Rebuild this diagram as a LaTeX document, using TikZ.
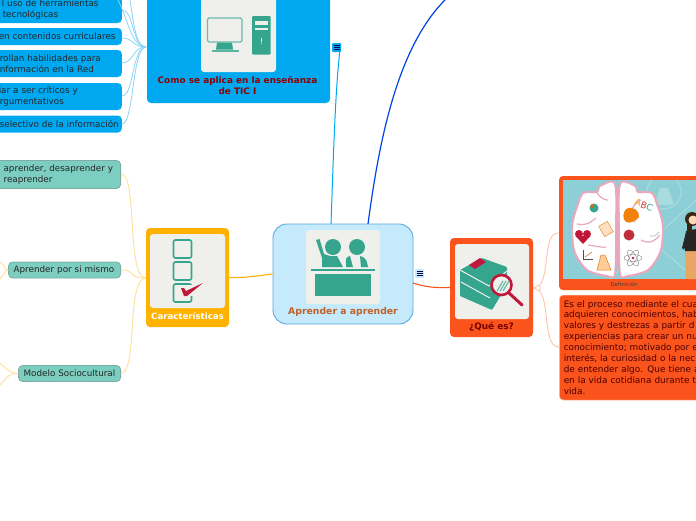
\documentclass[tikz,border=0pt]{standalone}
\usepackage{fontspec}
\setmainfont{DejaVu Sans}
\definecolor{bluetic}{HTML}{00A8EF}
\definecolor{bluelink}{HTML}{8AD6F8}
\definecolor{ambercar}{HTML}{FFB300}
\definecolor{amberlink}{HTML}{FFE09A}
\definecolor{orangeque}{HTML}{FA541C}
\definecolor{orangelink}{HTML}{FFC2AC}
\definecolor{tealicon}{HTML}{35A58E}
\definecolor{tealleaf}{HTML}{7CCEC0}
\definecolor{panelgray}{HTML}{EFF0EC}
\definecolor{crimson}{HTML}{C0183A}
\definecolor{pinkbrain}{HTML}{E8A9BE}
\definecolor{rootblue}{HTML}{C5EAFB}
\definecolor{rootline}{HTML}{5BA8DC}
\definecolor{rootword}{HTML}{C0612A}
\definecolor{brainback}{HTML}{8CCFD6}
\definecolor{brainline}{HTML}{A9DCDE}
\tikzset{
    bigbox/.style={rounded corners=4pt, inner sep=0pt},
    panel/.style={fill=panelgray, rounded corners=3pt, inner sep=0pt},
    leafblue/.style={fill=bluetic, rounded corners=4pt, anchor=east, inner xsep=5pt, inner ysep=0pt, align=left, text=black!85,
            font=\fontsize{8.8}{11}\selectfont},
    leafteal/.style={leafblue, fill=tealleaf, draw=tealleaf!55!gray, line width=0.8pt},
    caption/.style={inner sep=0pt, align=center, font=\fontsize{8.9}{11}\selectfont\bfseries},
    togglebox/.style={rounded corners=1pt, minimum size=9pt, inner sep=0pt},
    blink/.style={bluelink, line width=0.8pt},
    alink/.style={amberlink, line width=0.9pt},
    olink/.style={orangelink, line width=0.9pt},
}
\begin{document}
\begin{tikzpicture}[x=1pt,y=-1pt]
    \useasboundingbox (0,0) rectangle (696,520);
    \fill[white] (0,0) rectangle (696,520);

    % main boxes
    \node[bigbox, fill=bluetic, minimum width=183pt, minimum height=123pt] (tic) at (238.5,41.5) {};
    \node[bigbox, fill=ambercar, minimum width=83pt, minimum height=99pt] (carac) at (187.5,277.5) {};
    \node[fill=rootblue, draw=rootline, line width=0.9pt, rounded corners=14pt, inner sep=0pt,
        minimum width=140pt, minimum height=100pt] (root) at (343,274) {};
    \node[bigbox, fill=orangeque, minimum width=83pt, minimum height=99pt] (quees) at (491.5,287.5) {};
    \node[bigbox, fill=orangeque, minimum width=141pt, minimum height=114pt] (defin) at (629.5,233) {};

    % free ends and toggles
    \coordinate (ticin) at (146,47);
    \coordinate (topin) at (445,0);
    \coordinate (topa) at (130,0);
    \coordinate (topb) at (118,0);
    \coordinate (lefta) at (0,262);
    \coordinate (leftb) at (0,279);
    \coordinate (leftc) at (0,363);
    \coordinate (leftd) at (0,385);
    \coordinate (carin) at (146,278);
    \coordinate (quein) at (533,288);
    \node[togglebox, fill=bluetic] (toggletic) at (336.5,47.5) {};
    \node[togglebox, fill=rootblue] (toggleroot) at (419.5,273.5) {};

    % leaves
    \node[leafblue, minimum height=27pt, text width=123pt] (bluea) at (122,9.5) {\hspace*{8pt}\mbox{l uso de herramientas}\\\hspace*{9pt}tecnológicas};
    \node[leafblue, minimum height=17pt, text width=123pt] (blueb) at (122,36.5) {\hspace*{5pt}\mbox{en contenidos curriculares}};
    \node[leafblue, minimum height=27pt, text width=123pt] (bluec) at (122,63.5) {\hspace*{6pt}\mbox{rollan habilidades para}\\\hspace*{6pt}\mbox{nformación en la Red}};
    \node[leafblue, minimum height=27pt, text width=123pt] (blued) at (122,96.5) {\hspace*{5pt}\mbox{iar a ser críticos y}\\\hspace*{6pt}rgumentativos};
    \node[leafblue, minimum height=17pt, text width=123pt] (bluee) at (122,124) {\hspace*{6pt}\mbox{selectivo de la información}};
    \node[leafteal, minimum height=28pt, text width=122pt] (teala) at (121,174.5) {\hspace*{10pt}\mbox{aprender, desaprender y}\\\hspace*{10pt}reaprender};
    \node[leafteal, minimum height=16pt, text width=102pt] (tealb) at (121,270) {\mbox{Aprender por si mismo}};
    \node[leafteal, minimum height=16pt, text width=92pt] (tealc) at (121,373.5) {\mbox{Modelo Sociocultural}};

    % connectors
    \foreach \n/\y in {bluea/10,blueb/38,bluec/63,blued/96,bluee/124}{
            \draw[blink] (\n.east |- 0,\y) .. controls (134,\y) and (132,47) .. (ticin);
        }
    \draw[blink] (topa) .. controls (134,25) and (136,47) .. (ticin);
    \draw[blink] (topb) .. controls (128,20) and (132,47) .. (ticin);
    \foreach \n/\y in {teala/174,tealb/270,tealc/373}{
            \draw[alink] (\n.east |- 0,\y) .. controls (138,\y) and (126,278) .. (carin);
        }
    \draw[alink] (tealb.west) .. controls (5,270) and (4,265) .. (lefta);
    \draw[alink] (tealb.west) .. controls (5,270) and (4,275) .. (leftb);
    \draw[alink] (tealc.west) .. controls (10,373) and (8,370) .. (leftc);
    \draw[alink] (tealc.west) .. controls (10,373) and (8,376) .. (leftd);
    \draw[ambercar, line width=1.1pt] (carac.east) .. controls (245,278) and (255,276) .. (root.west);
    \draw[orangeque, line width=1.1pt] (413,283) .. controls (425,287) and (435,288) .. (quees.west);
    \draw[bluetic, line width=1pt] (331,224) .. controls (333,170) and (335,90) .. (340,50);
    \draw[blue!70!cyan!90!black, line width=1.2pt] (368,224) .. controls (378,150) and (395,50) .. (topin);
    \draw[olink] (quein) .. controls (553,288) and (540,232) .. (defin.west);
    \draw[olink] (quein) .. controls (553,288) and (540,347) .. (559,347);
    \draw[orangelink, fill=white, line width=0.8pt] (538,288) circle (2.4pt);

    % toggle glyphs
    \foreach \y in {45.5,47.5,49.5}{
            \draw[black!70!blue, line width=0.8pt] (333.5,\y) -- (339.5,\y);
        }
    \foreach \y in {271.5,273.5,275.5}{
            \draw[black!70!blue, line width=0.8pt] (416.5,\y) -- (422.5,\y);
        }

    % panels
    \node[panel, minimum width=75pt, minimum height=74pt] (panelic) at (238.5,35) {};
    \node[panel, minimum width=75pt, minimum height=74pt] (panelcar) at (187.5,271) {};
    \node[panel, minimum width=74pt, minimum height=74pt] (panelroot) at (343,267) {};
    \node[panel, minimum width=74pt, minimum height=75pt] (panelque) at (492,281.5) {};

    % captions
    \node[caption, text=red!55!black] (labtic) at (237.5,85.5) {Como se aplica en la enseñanza\\de TIC I};
    \node[caption, text=white, font=\fontsize{8.6}{11}\selectfont\bfseries] (labcar) at (187.5,316) {Características};
    \node[caption, text=rootword, font=\fontsize{9.3}{11}\selectfont\bfseries] (labroot) at (343,312) {Aprender a aprender};
    \node[caption, text=red!45!black] (labque) at (491.5,326.5) {¿Qué es?};

    % computer icon
    \draw[tealicon!70!panelgray, line width=1.2pt, fill=panelgray, rounded corners=1.5pt] (207.5,18) rectangle (242,42);
    \fill[tealicon] (217,42.5) -- (232,42.5) -- (233,49.5) -- (216,49.5) -- cycle;
    \fill[tealicon!80!panelgray] (212,49.5) rectangle (239,51.5);
    \fill[tealicon, rounded corners=1pt] (252,16) rectangle (270.5,54.5);
    \fill[panelgray] (254.5,20.5) rectangle (268,25);
    \fill[panelgray] (254.5,28) rectangle (268,30);
    \fill[panelgray] (260.5,38) rectangle (262,41.5);
    \fill[panelgray] (260.5,42.5) rectangle (262,43.5);

    % checklist icon
    \foreach \y in {240,262,284}{
            \draw[tealicon, line width=1.6pt, rounded corners=2pt] (173.5,\y) rectangle (191.5,\y+18);
        }
    \fill[panelgray] (186,285) -- (194,285) -- (194,296) -- (186,296) -- cycle;
    \fill[crimson] (181,288) -- (184,288) -- (186,291) -- (203,283) -- (187,296) -- (184,296) -- cycle;

    % people icon
    \fill[tealicon] (333,247) circle (8pt);
    \fill[tealicon] (357,247) circle (8pt);
    \fill[tealicon] (316,240) -- (319.5,239) -- (324,254) -- (330,256) -- (337,256) -- (343,267) -- (322,267) -- (322,258) -- cycle;
    \fill[tealicon] (350,256) .. controls (343,258) and (347,262) .. (346,267) -- (353,267) -- cycle;
    \fill[tealicon] (360,256) .. controls (367,258) and (367,262) .. (368,267) -- (361,267) -- cycle;
    \fill[tealicon] (311,269) rectangle (375,271);
    \fill[tealicon] (315,274) rectangle (371,295.5);

    % book icon
    \fill[tealicon, rounded corners=1pt] (460,270) -- (482,258) -- (507,267) -- (507,285) -- (492,310) -- (460,296) -- cycle;
    \draw[panelgray, line width=1pt] (460,270) -- (489,286) -- (507,271);
    \draw[panelgray, line width=1pt] (461,282) -- (490,298);
    \fill[crimson] (469,265) -- (480,258) -- (486,262) -- (475,269) -- cycle;
    \draw[fill=panelgray, draw=crimson, line width=2.6pt] (501.5,285) circle (10pt);
    \draw[crimson, line width=3pt, line cap=round] (509,293) -- (522,305);
    \foreach \s in {0,3,6}{
            \draw[tealicon!70!panelgray, line width=1.2pt] (497+\s,291) -- (503+\s,281);
        }

    % brain picture
    \def\lobe{(615,184) (600,186) (597,192) (583,193) (577,207) (573,220) (572,233) (575,253) (587,270) (607,276) (615,274) (616,230)}
    \begin{scope}
        \clip (563,180) rectangle (696,279);
        \fill[brainback] (563,180) rectangle (696,279);
        \draw[brainline, line width=1pt] (664,192) circle (17pt);
        \draw[brainline, line width=1pt] (610,279) -- (696,200);
        \draw[brainline, line width=1pt] (650,240) -- (696,279);
        \fill[brainline] (660,188) -- (668,188) -- (674,205) -- (654,205) -- cycle;
        \draw[pinkbrain, fill=white, line width=2pt] plot[smooth cycle] coordinates {\lobe};
        \begin{scope}[shift={(1235,0)}, xscale=-1]
            \draw[pinkbrain, fill=white, line width=2pt] plot[smooth cycle] coordinates {\lobe};
            \draw[pinkbrain, line width=1.2pt] (594,200) .. controls (602,203) and (608,215) .. (600,222);
        \end{scope}
        \draw[pinkbrain, line width=1.2pt] (597,192) .. controls (600,200) and (608,200) .. (608,200);
        \draw[pinkbrain, line width=1.2pt] (596,218) .. controls (590,222) and (588,226) .. (577,224);
        \draw[pinkbrain, line width=1.2pt] (588,245) .. controls (596,246) and (604,248) .. (606,247);
        \draw[pinkbrain, line width=1.2pt] (641,240) .. controls (650,245) and (656,240) .. (660,235);
        % little pictures
        \fill[tealicon] (594,208) circle (4.5pt);
        \fill[orange!70!red] (592,206) circle (1.8pt);
        \fill[crimson] (579,234) circle (4pt);
        \fill[crimson] (587,234) circle (4pt);
        \fill[crimson] (575.5,236) -- (590.5,236) -- (583,244) -- cycle;
        \fill[orange!25!white, draw=orange!50!brown, line width=0.4pt, rotate around={30:(606,229)}] (601,223) rectangle (611,235);
        \draw[black!70, line width=0.5pt] (583,250) -- (583,259) -- (593,259);
        \draw[orange!80!black, line width=0.5pt] (585,257) -- (592,252);
        \fill[orange!40!white, draw=orange!60!brown, line width=0.5pt] (601,255) -- (605,255) -- (611,270) -- (597,270) -- cycle;
        \fill[orange!80!brown] (626,209) .. controls (634,205) and (640,212) .. (639,217) .. controls (636,221) and (630,224) .. (626,222) .. controls (622,219) and (623,212) .. (626,209) -- cycle;
        \fill[crimson!80!brown] (629,235) circle (5.5pt);
        \draw[gray!60, line width=0.6pt] (650,236) .. controls (655,237) and (658,234) .. (659,232);
        \draw[gray, line width=0.4pt] (633,258) ellipse (9pt and 3.5pt);
        \draw[gray, line width=0.4pt, rotate around={60:(633,258)}] (633,258) ellipse (9pt and 3.5pt);
        \draw[gray, line width=0.4pt, rotate around={-60:(633,258)}] (633,258) ellipse (9pt and 3.5pt);
        \fill[crimson] (633,258) circle (1.4pt);
        \node[inner sep=0pt, rotate=-20, font=\fontsize{9}{10}\selectfont] (abc) at (644,205) {\textcolor{orange!80!yellow}{A}\textcolor{crimson!70!orange}{B}\textcolor{tealicon}{C}};
        % girl
        \fill[brown!50!orange!70!white] (685,250) -- (696,250) -- (696,279) -- (686,279) -- cycle;
        \fill[black!85] (686,231) -- (696,229) -- (696,251) -- (685,251) -- cycle;
        \fill[black!85] (686,232) -- (682,248) -- (684,250) -- (689,236) -- cycle;
        \fill[black!70!brown] (692,219) circle (7pt);
        \fill[black!70!brown] (687,219) rectangle (692,232);
        \fill[orange!30!white] (693,220) circle (4.5pt);
    \end{scope}
    \node[inner sep=0pt, text=black!75, font=\fontsize{5.4}{6}\selectfont] (labdef) at (624,284) {Definición};

    % description box
    \node[bigbox, fill=orangeque, draw=orangelink, line width=0.5pt, text width=160pt, minimum height=105pt, anchor=west, inner xsep=4.5pt, align=left,
        text=red!30!black, font=\fontsize{8.9}{10.95}\selectfont] (texto) at (559,347.5) {Es el proceso mediante el cua\\adquieren conocimientos, hab\\valores y destrezas a partir d\\experiencias para crear un nu\\conocimiento; motivado por e\\interés, la curiosidad o la nec\\de entender algo. Que tiene a\\en la vida cotidiana durante t\\vida.};
\end{tikzpicture}
\end{document}
